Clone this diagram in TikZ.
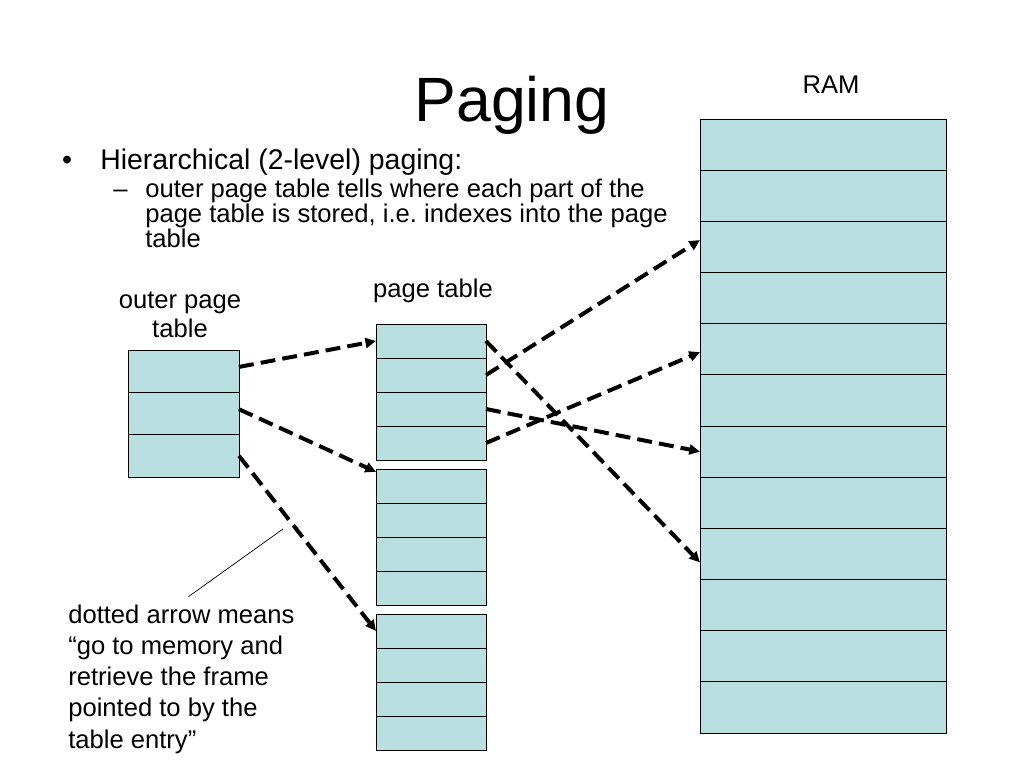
\documentclass[tikz,border=0pt]{standalone}
\usepackage{fontspec}
\setmainfont{Liberation Sans}
\usetikzlibrary{arrows.meta}
\definecolor{cellblue}{RGB}{185,223,225}
\tikzset{
  cell/.style={draw, fill=cellblue, line width=0.6pt, inner sep=0pt, outer sep=0pt},
  ramcell/.style={cell, minimum width=173pt, minimum height=35.98pt},
  outercell/.style={cell, minimum width=78pt, minimum height=29.77pt},
  pagecell/.style={cell, minimum width=77.3pt, minimum height=23.9pt},
  pointer/.style={line width=2.8pt, dash pattern=on 10.5pt off 5pt,
    -{Triangle[length=7.5pt,width=7pt]}},
  label/.style={font=\fontsize{18}{21}\selectfont}
}

\begin{document}
\begin{tikzpicture}[x=0.703125pt, y=-0.703125pt]
    \useasboundingbox (0,0) rectangle (1024,768);

    % heading and bullets
    \node[anchor=base, font=\fontsize{44}{52}\selectfont] (title) at (512,122) {Paging};
    \node[anchor=base, font=\fontsize{20}{24}\selectfont] (dot) at (67,170) {•};
    \node[anchor=base west, inner sep=0pt, font=\fontsize{20}{24}\selectfont] (head) at (100,170) {Hierarchical (2-level) paging:};
    \node[anchor=base west, inner sep=0pt, label] (dash) at (113,198) {–};
    % base anchor sits on the last line
    \node[anchor=base west, inner sep=0pt, align=left, font=\fontsize{18}{17.6}\selectfont\frenchspacing] (sub) at (145,248)
        {outer page table tells where each part of the\\page table is stored, i.e. indexes into the page\\table};

    % RAM
    \node[anchor=base, label] (ramlabel) at (831,94) {RAM};
    \node[ramcell] (ram1) at (823,144.6) {};
    \node[ramcell] (ram2) at (823,195.75) {};
    \node[ramcell] (ram3) at (823,246.9) {};
    \node[ramcell] (ram4) at (823,298.1) {};
    \node[ramcell] (ram5) at (823,349.25) {};
    \node[ramcell] (ram6) at (823,400.4) {};
    \node[ramcell] (ram7) at (823,451.6) {};
    \node[ramcell] (ram8) at (823,502.75) {};
    \node[ramcell] (ram9) at (823,553.9) {};
    \node[ramcell] (ram10) at (823,605.1) {};
    \node[ramcell] (ram11) at (823,656.25) {};
    \node[ramcell] (ram12) at (823,707.4) {};

    % outer page table
    \node[anchor=base, align=center, inner sep=0pt, font=\fontsize{18}{19.7}\selectfont] (outerlabel) at (180,337) {outer page\\table};
    \node[outercell] (outer1) at (183.5,371.2) {};
    \node[outercell] (outer2) at (183.5,413.5) {};
    \node[outercell] (outer3) at (183.5,455.8) {};

    % page table, three parts
    \node[anchor=base, label] (ptlabel) at (433,297) {page table};
    \node[pagecell] (pt1) at (431,341) {};
    \node[pagecell] (pt2) at (431,375) {};
    \node[pagecell] (pt3) at (431,409) {};
    \node[pagecell] (pt4) at (431,443) {};

    \node[pagecell] (pt5) at (431,486) {};
    \node[pagecell] (pt6) at (431,520) {};
    \node[pagecell] (pt7) at (431,554) {};
    \node[pagecell] (pt8) at (431,588) {};

    \node[pagecell] (pt9) at (431,631) {};
    \node[pagecell] (pt10) at (431,665) {};
    \node[pagecell] (pt11) at (431,699) {};
    \node[pagecell] (pt12) at (431,733) {};

    % outer -> page table
    \draw[pointer] ([yshift=3pt]outer1.east) -- (pt1.west);
    \draw[pointer] ([yshift=3pt]outer2.east) -- ([yshift=-2pt]pt5.north west);
    \draw[pointer] (outer3.east) -- (pt9.west);

    % page table -> RAM
    \draw[pointer] (pt1.east) -- ([yshift=-6pt]ram9.west);
    \draw[pointer] (pt2.east) -- ([yshift=4.8pt]ram3.west);
    \draw[pointer] (pt3.east) -- (ram7.west);
    \draw[pointer] (pt4.east) -- ([yshift=-2pt]ram5.west);

    % note
    \node[anchor=base west, inner sep=0pt, align=left, font=\fontsize{18}{21.8}\selectfont] (note) at (68,748)
        {dotted arrow means\\“go to memory and\\retrieve the frame\\pointed to by the\\table entry”};
    \coordinate (hint) at (283,529);
    \draw[line width=0.5pt] ([xshift=5pt,yshift=6pt]note.north) -- (hint);

\end{tikzpicture}
\end{document}
